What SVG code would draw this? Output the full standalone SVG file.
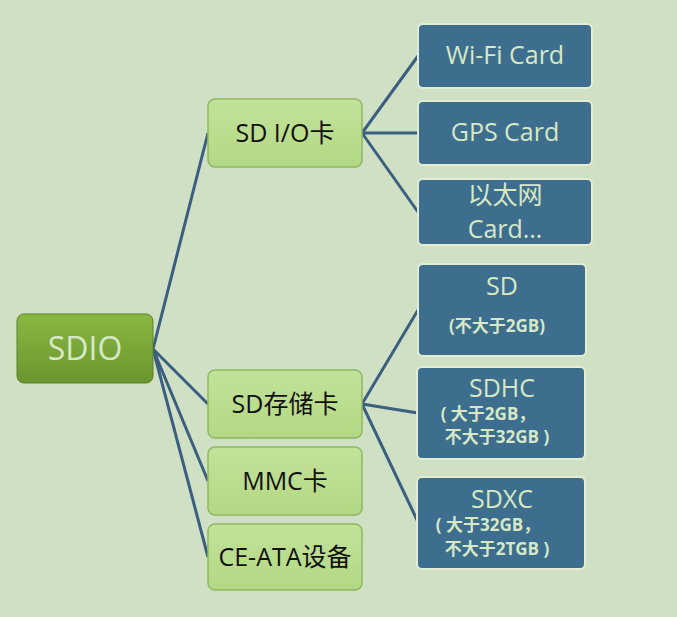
<svg xmlns="http://www.w3.org/2000/svg" width="677" height="617" viewBox="0 0 677 617">
<defs>
<linearGradient id="gg" x1="0" y1="0" x2="0" y2="1"><stop offset="0" stop-color="#8ab840"/><stop offset="1" stop-color="#6a9530"/></linearGradient>
<linearGradient id="lg" x1="0" y1="0" x2="0" y2="1"><stop offset="0" stop-color="#c3e29a"/><stop offset="1" stop-color="#b3d884"/></linearGradient>
</defs>
<style>
.c{stroke:#3b5f80;stroke-width:3;fill:none}
.g{fill:url(#lg);stroke:#90b860;stroke-width:1.5}
.b{fill:#3e6e8e;stroke:#e2ecd6;stroke-width:2}
.t{font-family:"Open Sans","Noto Sans CJK SC",sans-serif;text-anchor:middle}
.k{fill:#111;font-size:25px}
.w{fill:#d6e8c6;font-size:25px}
.s{fill:#d6e8c6;font-size:17px;font-weight:bold}
</style>
<rect width="677" height="617" fill="#cfe0c4"/>
<g id="connectors">
<path class="c" d="M153 349L208 133M153 349L208 404M153 349L208 481M153 349L208 557"/>
<path class="c" d="M362 133L418 56M362 133L418 133M362 133L418 212"/>
<path class="c" d="M362 404L418 310M362 404L418 413M362 404L418 522"/>
</g>
<g id="sdio"><rect x="17" y="314" width="136" height="69" rx="7" fill="url(#gg)" stroke="#5a8028"/><text class="t" x="85" y="360" font-size="32" fill="#d6e8c6">SDIO</text></g>
<g id="sdio-card"><rect class="g" x="208" y="99" width="154" height="68" rx="7"/><text class="t k" x="285" y="142">SD I/O卡</text></g>
<g id="sd-storage"><rect class="g" x="208" y="370" width="154" height="68" rx="7"/><text class="t k" x="285" y="413">SD存储卡</text></g>
<g id="mmc"><rect class="g" x="208" y="447" width="154" height="68" rx="7"/><text class="t k" x="285" y="490">MMC卡</text></g>
<g id="ce-ata"><rect class="g" x="208" y="524" width="154" height="66" rx="7"/><text class="t k" x="285" y="566">CE-ATA设备</text></g>
<g id="wifi"><rect class="b" x="418" y="24" width="174" height="64" rx="5"/><text class="t w" x="505" y="64">Wi-Fi Card</text></g>
<g id="gps"><rect class="b" x="418" y="101" width="174" height="64" rx="5"/><text class="t w" x="505" y="141">GPS Card</text></g>
<g id="eth"><rect class="b" x="418" y="179" width="174" height="66" rx="5"/><text class="t w" x="505" y="204">以太网</text><text class="t w" x="505" y="238">Card…</text></g>
<g id="sd"><rect class="b" x="418" y="264" width="168" height="92" rx="5"/><text class="t w" x="502" y="295">SD</text><text class="t s" x="497" y="332">(不大于2GB)</text></g>
<g id="sdhc"><rect class="b" x="417" y="367" width="168" height="92" rx="5"/><text class="t w" x="502" y="397">SDHC</text><text class="t s" x="488" y="420">( 大于2GB，</text><text class="t s" x="497" y="443">不大于32GB )</text></g>
<g id="sdxc"><rect class="b" x="417" y="477" width="168" height="92" rx="5"/><text class="t w" x="502" y="508">SDXC</text><text class="t s" x="488" y="531">( 大于32GB，</text><text class="t s" x="497" y="555">不大于2TGB )</text></g>
</svg>
